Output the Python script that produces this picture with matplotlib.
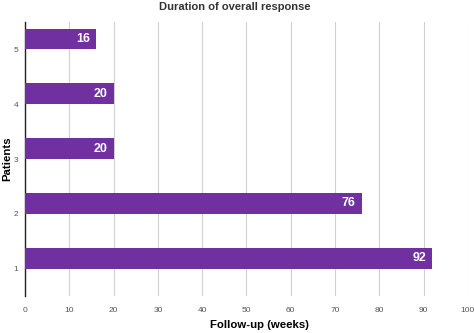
import matplotlib.pyplot as plt

# Duration of overall response per patient
patients = [1, 2, 3, 4, 5]
weeks = [92, 76, 20, 20, 16]
x_ticks = [0, 10, 20, 30, 40, 50, 60, 70, 80, 90, 100]

plt.rcParams['font.family'] = ['Liberation Sans', 'DejaVu Sans']

fig = plt.figure(figsize=(4.74, 3.33), dpi=100)
ax = fig.add_axes([0.053, 0.111, 0.934, 0.823])

bar_color = '#7030A0'
bars = ax.barh(patients, weeks, height=0.38, align='edge', color=bar_color, zorder=3)

for b, w in zip(bars, weeks):
    ax.text(w - 1.4, b.get_y() + b.get_height() / 2, str(w),
            ha='right', va='center', color='white', fontsize=9,
            fontweight='bold', zorder=4)

ax.set_xlim(0, 100)
ax.set_ylim(0.5, 5.5)
ax.set_xticks(x_ticks)
ax.set_yticks(patients)
ax.tick_params(axis='both', length=0, labelsize=6, labelcolor='#555555')
ax.tick_params(axis='x', pad=8)
ax.tick_params(axis='y', pad=5)

ax.grid(axis='x', color='#d0d0d0', linewidth=0.8, zorder=0)
ax.set_axisbelow(True)

for side in ['top', 'right', 'bottom']:
    ax.spines[side].set_visible(False)
ax.spines['left'].set_color('#222222')
ax.spines['left'].set_linewidth(1.0)

fig.suptitle('Duration of overall response', fontsize=8, fontweight='bold',
             color='#333333', x=0.496, y=0.995, va='top')
ax.set_xlabel('Follow-up (weeks)', fontsize=8.2, fontweight='bold')
ax.xaxis.set_label_coords(0.53, -0.088)
ax.set_ylabel('Patients', fontsize=8.2, fontweight='bold')
ax.yaxis.set_label_coords(-0.028, 0.5)

fig.savefig('out.png', dpi=100, facecolor='white')
